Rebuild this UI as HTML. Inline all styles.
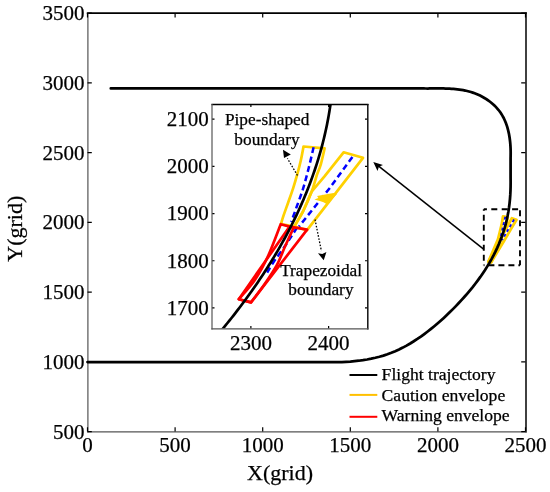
<!DOCTYPE html>
<html><head><meta charset="utf-8"><style>
html,body{margin:0;padding:0;background:#fff;}
text{stroke:#000;stroke-width:0.25px;}
svg{display:block;}
</style></head><body>
<svg width="550" height="492" viewBox="0 0 550 492">
<rect width="550" height="492" fill="#fff"/>
<path d="M86.8,13.1 H526.8" stroke="#000" stroke-width="1.6"/>
<path d="M526,12.3 V432.6" stroke="#111" stroke-width="1.6"/>
<path d="M87.9,12.3 V432.5" stroke="#555" stroke-width="1.2"/>
<path d="M87.3,431.9 H526.8" stroke="#555" stroke-width="1.2"/>
<path d="M87.50,431.6 v-4.3 M87.50,13.1 v4.3 M175.10,431.6 v-4.3 M175.10,13.1 v4.3 M262.70,431.6 v-4.3 M262.70,13.1 v4.3 M350.30,431.6 v-4.3 M350.30,13.1 v4.3 M437.90,431.6 v-4.3 M437.90,13.1 v4.3 M525.50,431.6 v-4.3 M525.50,13.1 v4.3 M87.5,431.60 h4.3 M525.5,431.60 h-4.3 M87.5,361.85 h4.3 M525.5,361.85 h-4.3 M87.5,292.10 h4.3 M525.5,292.10 h-4.3 M87.5,222.35 h4.3 M525.5,222.35 h-4.3 M87.5,152.60 h4.3 M525.5,152.60 h-4.3 M87.5,82.85 h4.3 M525.5,82.85 h-4.3 M87.5,13.10 h4.3 M525.5,13.10 h-4.3" stroke="#000" stroke-width="1.2" fill="none"/>
<g font-family='"Liberation Serif", "Times New Roman", serif' font-size="21" fill="#000"><text x="87.50" y="452.3" text-anchor="middle">0</text><text x="175.10" y="452.3" text-anchor="middle">500</text><text x="262.70" y="452.3" text-anchor="middle">1000</text><text x="350.30" y="452.3" text-anchor="middle">1500</text><text x="437.90" y="452.3" text-anchor="middle">2000</text><text x="525.50" y="452.3" text-anchor="middle">2500</text><text x="84.5" y="438.50" text-anchor="end">500</text><text x="84.5" y="368.75" text-anchor="end">1000</text><text x="84.5" y="299.00" text-anchor="end">1500</text><text x="84.5" y="229.25" text-anchor="end">2000</text><text x="84.5" y="159.50" text-anchor="end">2500</text><text x="84.5" y="89.75" text-anchor="end">3000</text><text x="84.5" y="20.00" text-anchor="end">3500</text></g>
<text x="280" y="479.7" text-anchor="middle" font-family='"Liberation Serif", "Times New Roman", serif' font-size="22" fill="#000">X(grid)</text>
<text transform="translate(22,228.7) rotate(-90)" text-anchor="middle" font-family='"Liberation Serif", "Times New Roman", serif' font-size="22" fill="#000">Y(grid)</text>
<path d="M483.8,209.3 H520" stroke="#000" stroke-width="1.9" fill="none" stroke-dasharray="6,4.4" stroke-dashoffset="2.9"/>
<path d="M483.8,209.3 V265.3" stroke="#000" stroke-width="1.9" fill="none" stroke-dasharray="6,4" stroke-dashoffset="4.6"/>
<path d="M520,209.3 V265.3" stroke="#000" stroke-width="1.9" fill="none" stroke-dasharray="6,4" stroke-dashoffset="9.1"/>
<path d="M520,265.3 H483.8" stroke="#000" stroke-width="1.9" fill="none" stroke-dasharray="6,4" stroke-dashoffset="4.4"/>
<polygon points="503.02,216.47 501.62,224.66 499.55,233.09 497.95,239.39 488.39,261.69 491.21,262.22 500.92,240.16 504.19,231.11 506.92,221.74 507.77,217.03" fill="none" stroke="#FFD100" stroke-width="2.8" stroke-linejoin="round"/><polygon points="511.87,218.22 516.43,219.81 503.81,241.19 491.21,262.22 488.39,261.69 499.98,239.86" fill="none" stroke="#FFD100" stroke-width="2.8" stroke-linejoin="round"/><path d="M505.29,216.71 L500.20,238.80" stroke="#0000FF" stroke-width="1.8" stroke-dasharray="3,2.6" fill="none"/><path d="M514.04,219.55 L502.00,240.13" stroke="#0000FF" stroke-width="1.8" stroke-dasharray="3,2.6" fill="none"/>
<path d="M110.80,88.40 L420.00,88.40 L421.93,88.45 L423.86,88.48 L425.80,88.50 L427.76,88.50 L429.72,88.49 L431.68,88.48 L433.66,88.47 L435.63,88.45 L437.61,88.45 L439.60,88.44 L441.58,88.45 L443.57,88.47 L445.55,88.51 L447.54,88.57 L449.52,88.66 L451.50,88.76 L453.47,88.90 L455.44,89.07 L457.41,89.28 L459.36,89.53 L461.31,89.82 L463.25,90.15 L465.18,90.53 L467.09,90.97 L469.00,91.46 L470.89,92.01 L472.77,92.61 L474.62,93.28 L476.46,94.00 L478.27,94.78 L480.06,95.61 L481.81,96.50 L483.53,97.45 L485.22,98.45 L486.87,99.50 L488.48,100.60 L490.04,101.76 L491.56,102.97 L493.02,104.23 L494.44,105.54 L495.80,106.90 L497.10,108.31 L498.34,109.76 L499.52,111.27 L500.63,112.82 L501.67,114.42 L502.64,116.06 L503.55,117.75 L504.39,119.47 L505.17,121.23 L505.89,123.03 L506.55,124.85 L507.15,126.70 L507.70,128.58 L508.19,130.48 L508.63,132.40 L509.03,134.34 L509.37,136.30 L509.68,138.26 L509.93,140.24 L510.15,142.22 L510.32,144.21 L510.46,146.19 L510.56,148.18 L510.63,150.16 L510.66,152.14 L510.66,154.10 L510.64,156.06 L510.59,158.00 L510.59,178.00 L510.64,182.22 L510.60,186.45 L510.48,190.68 L510.27,194.90 L509.96,199.12 L509.54,203.33 L509.01,207.53 L508.37,211.70 L507.60,215.85 L506.71,219.97 L505.70,224.07 L504.56,228.13 L503.31,232.15 L501.95,236.14 L500.47,240.08 L498.89,243.99 L497.20,247.84 L495.41,251.65 L493.52,255.41 L491.53,259.12 L489.46,262.78 L487.29,266.39 L485.05,269.95 L482.72,273.46 L480.32,276.93 L477.84,280.35 L475.29,283.72 L472.69,287.05 L470.01,290.33 L467.29,293.57 L464.50,296.76 L461.67,299.91 L458.79,303.02 L455.87,306.08 L452.91,309.11 L449.91,312.08 L446.87,315.02 L443.79,317.90 L440.66,320.73 L437.49,323.51 L434.26,326.24 L430.99,328.91 L427.66,331.51 L424.28,334.06 L420.84,336.54 L417.34,338.94 L413.79,341.26 L410.19,343.48 L406.53,345.59 L402.81,347.60 L399.04,349.47 L395.22,351.21 L391.34,352.81 L387.41,354.26 L383.43,355.57 L379.40,356.74 L375.34,357.78 L371.24,358.70 L367.11,359.49 L362.95,360.17 L358.77,360.74 L354.57,361.21 L350.35,361.59 L346.13,361.87 L341.90,362.06 L337.66,362.17 L333.43,362.21 L329.21,362.18 L325.00,362.09 L87.50,362.10" stroke="#000" stroke-width="2.75" fill="none" stroke-linecap="round"/>
<path d="M483.6,249.1 L378,165.6" stroke="#000" stroke-width="1.5" fill="none"/>
<path d="M373.3,162 L383,164.9 L378.9,166.7 L377.5,171 Z" fill="#000"/>
<path d="M349.5,375 H377.3" stroke="#000" stroke-width="2"/><path d="M349.5,394.9 H377.3" stroke="#FFC000" stroke-width="2"/><path d="M349.5,416.8 H377.3" stroke="#FF0000" stroke-width="2"/><g font-family='"Liberation Serif", "Times New Roman", serif' font-size="17.6" fill="#000"><text x="381.6" y="379.6">Flight trajectory</text><text x="381.6" y="401">Caution envelope</text><text x="381.6" y="421.4">Warning envelope</text></g>
<rect x="212.0" y="104.6" width="155.5" height="224.00000000000003" fill="#fff"/>
<path d="M250.88,328.6 v-2.5 M250.88,104.6 v2.5 M328.62,328.6 v-2.5 M328.62,104.6 v2.5 M212.0,307.90 h2.5 M367.5,307.90 h-2.5 M212.0,260.73 h2.5 M367.5,260.73 h-2.5 M212.0,213.55 h2.5 M367.5,213.55 h-2.5 M212.0,166.38 h2.5 M367.5,166.38 h-2.5 M212.0,119.20 h2.5 M367.5,119.20 h-2.5" stroke="#000" stroke-width="1.2" fill="none"/>
<g font-family='"Liberation Serif", "Times New Roman", serif' font-size="21" fill="#000"><text x="250.88" y="349.5" text-anchor="middle">2300</text><text x="328.62" y="349.5" text-anchor="middle">2400</text><text x="208.7" y="314.80" text-anchor="end">1700</text><text x="208.7" y="267.62" text-anchor="end">1800</text><text x="208.7" y="220.45" text-anchor="end">1900</text><text x="208.7" y="173.28" text-anchor="end">2000</text><text x="208.7" y="126.10" text-anchor="end">2100</text></g>
<clipPath id="ic"><rect x="212.0" y="104.6" width="155.5" height="224.00000000000003"/></clipPath><g clip-path="url(#ic)"><path d="M303.50,146.50 C303.07,148.75 301.93,155.38 300.90,160.00 C299.87,164.62 298.60,169.47 297.30,174.20 C296.00,178.93 294.63,183.65 293.10,188.40 C291.57,193.15 289.77,197.95 288.10,202.70 C286.43,207.45 284.28,213.35 283.10,216.90 C281.92,220.45 281.35,222.82 281.00,224.00 L294.20,226.60 C295.67,224.08 300.07,217.38 303.00,211.50 C305.93,205.62 309.52,197.30 311.80,191.30 C314.08,185.30 315.20,180.00 316.70,175.50 C318.20,171.00 319.48,168.82 320.80,164.30 C322.12,159.78 323.97,151.05 324.60,148.40 Z" fill="none" stroke="#FFD100" stroke-width="2.7" stroke-linejoin="round"/><polygon points="343.6,152.3 363,157.8 307,230.1 294.2,226.6 303,211.5 311.8,191.3 324.5,176.4" fill="none" stroke="#FFD100" stroke-width="2.7" stroke-linejoin="round"/><path d="M313.60,147.30 C312.78,150.75 310.45,161.12 308.70,168.00 C306.95,174.88 305.13,182.05 303.10,188.60 C301.07,195.15 298.48,201.73 296.50,207.30 C294.52,212.87 292.08,219.55 291.20,222.00" stroke="#0000FF" stroke-width="2.5" stroke-dasharray="6,3.6" fill="none"/><path d="M352.4,156.9 L330,187.7 L299,226.5" stroke="#0000FF" stroke-width="2.5" stroke-dasharray="6,3.6" fill="none"/><path d="M297.00,227.50 C295.27,230.20 290.63,237.75 286.60,243.70 C282.57,249.65 276.32,257.90 272.80,263.20 C269.28,268.50 266.72,273.45 265.50,275.50" stroke="#0000FF" stroke-width="2.5" stroke-dasharray="6,3.6" fill="none"/><polygon points="317.1,195.9 325,194.6 333.5,193.0 337,194 327,204.2 323.5,202.3 319.8,200.9 314.4,199.6 318.3,197.9" fill="#FFD100"/><path d="M280.70,224.20 C278.63,229.42 272.50,246.37 268.30,255.50 C264.10,264.63 260.42,271.72 255.50,279.00 C250.58,286.28 241.58,295.83 238.80,299.20 L251.00,302.40 C253.17,299.50 259.65,291.30 264.00,285.00 C268.35,278.70 273.60,271.02 277.10,264.60 C280.60,258.18 282.25,252.67 285.00,246.50 C287.75,240.33 292.17,230.75 293.60,227.60 Z" fill="none" stroke="#FF0000" stroke-width="2.7" stroke-linejoin="round"/><polygon points="289.6,226.6 307.1,229.6 251,302.4 238.8,299.2" fill="none" stroke="#FF0000" stroke-width="2.7" stroke-linejoin="round"/><path d="M331.70,94.74 L331.30,98.16 L330.86,101.57 L330.39,104.97 L329.88,108.36 L329.34,111.74 L328.77,115.11 L328.17,118.47 L327.54,121.83 L326.87,125.17 L326.17,128.51 L325.45,131.83 L324.69,135.15 L323.90,138.45 L323.08,141.75 L322.23,145.04 L321.36,148.31 L320.45,151.58 L319.51,154.84 L318.55,158.09 L317.55,161.33 L316.53,164.55 L315.48,167.77 L314.41,170.98 L313.30,174.18 L312.17,177.37 L311.02,180.55 L309.83,183.72 L308.62,186.88 L307.39,190.02 L306.12,193.16 L304.84,196.29 L303.52,199.41 L302.19,202.52 L300.82,205.61 L299.44,208.70 L298.03,211.78 L296.60,214.84 L295.14,217.90 L293.66,220.94 L292.15,223.98 L290.63,227.00 L289.08,230.02 L287.51,233.02 L285.92,236.01 L284.31,238.99 L282.67,241.96 L281.01,244.92 L279.34,247.87 L277.64,250.81 L275.92,253.74 L274.19,256.65 L272.43,259.56 L270.66,262.45 L268.86,265.33 L267.05,268.21 L265.22,271.07 L263.37,273.92 L261.50,276.76 L259.61,279.58 L257.71,282.40 L255.79,285.20 L253.85,288.00 L251.90,290.78 L249.93,293.55 L247.94,296.31 L245.94,299.06 L243.92,301.79 L241.89,304.52 L239.84,307.23 L237.78,309.93 L235.71,312.62 L233.62,315.30 L231.51,317.97 L229.39,320.62 L227.26,323.26 L225.12,325.89 L222.96,328.51 L220.79,331.12 L218.61,333.71" stroke="#000" stroke-width="2.7" fill="none" stroke-linejoin="round"/></g>
<path d="M211.4,104.6 H368.5" stroke="#000" stroke-width="1.5"/>
<path d="M367.8,103.9 V329.5" stroke="#111" stroke-width="1.5"/>
<path d="M212,104 V329.4" stroke="#555" stroke-width="1.2"/>
<path d="M211.4,328.9 H368.5" stroke="#555" stroke-width="1.2"/>
<g font-family='"Liberation Serif", "Times New Roman", serif' font-size="17.3" fill="#000" text-anchor="middle"><text x="267.2" y="124.6">Pipe-shaped</text><text x="267" y="144.9">boundary</text><text x="321.1" y="275.8">Trapezoidal</text><text x="320.9" y="294.5">boundary</text></g>
<path d="M297.5,175.5 L287.4,158.4" stroke="#000" stroke-width="1.3" stroke-dasharray="1.6,1.6" fill="none"/>
<path d="M283,149.7 L290.8,154.4 L284,158.1 Z" fill="#000"/>
<path d="M315,219.5 L321.4,251" stroke="#000" stroke-width="1.3" stroke-dasharray="1.6,1.6" fill="none"/>
<path d="M323.7,260.3 L318,253.3 L322.3,254 L326.4,252.1 Z" fill="#000"/>
</svg>
</body></html>
